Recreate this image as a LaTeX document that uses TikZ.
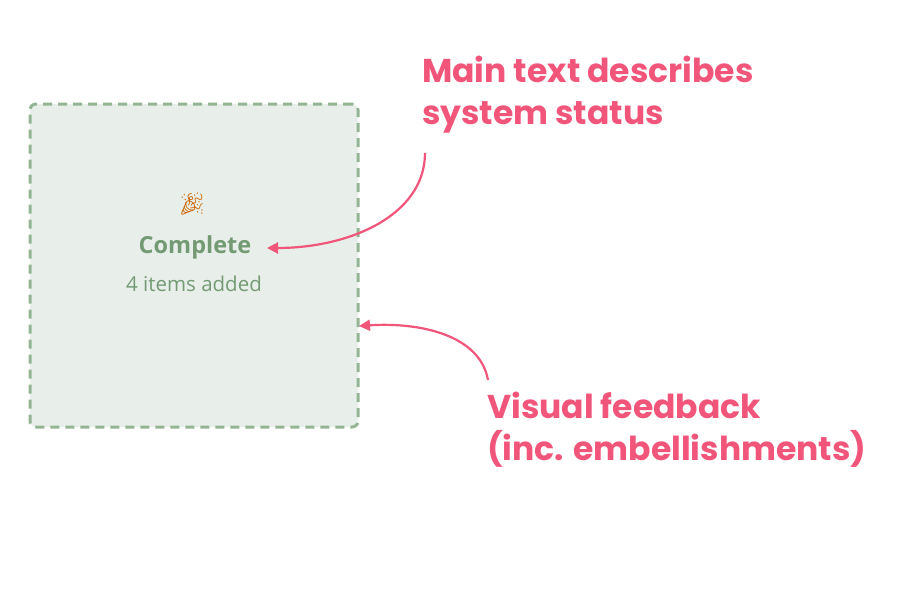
\documentclass[tikz,border=0pt]{standalone}
\usepackage{fontspec}
\setmainfont{Poppins}
\newfontfamily\gfont{Open Sans}
\newfontfamily\emo{Noto Emoji}
\usetikzlibrary{arrows.meta}
\definecolor{pinkc}{HTML}{F2557A}
\definecolor{greenc}{HTML}{739A73}
\definecolor{boxfill}{HTML}{E8EFEA}
\definecolor{boxline}{HTML}{94B594}
\tikzset{lbl/.style={text=pinkc,font=\fontsize{33}{42}\selectfont\bfseries,align=left,anchor=north west,inner sep=0},
 conn/.style={draw=pinkc,line width=2.2pt,-{Triangle[length=11pt,width=11pt]}}}
\begin{document}
\begin{tikzpicture}[x=1pt,y=-1pt]
\useasboundingbox (0,0) rectangle (900,589);
\fill[white] (0,0) rectangle (900,589);
\node[draw=boxline,fill=boxfill,line width=3pt,dash pattern=on 9pt off 6pt,rounded corners=6pt,minimum width=328pt,minimum height=323pt,inner sep=0] (box) at (194,265.5) {};
\node[font=\emo\fontsize{22}{22}\selectfont,text=orange!80!black] (emo) at (192,204) {🎉};
\node[font=\gfont\fontsize{23.5}{26}\selectfont\bfseries,text=greenc] (comp) at (195,247) {Complete};
\node[font=\gfont\fontsize{20.5}{24}\selectfont,text=greenc] (items) at (194,284) {4 items added};
\node[lbl] (l1) at (422,56) {Main text describes\\system status};
\node[lbl] (l2) at (487,392) {Visual feedback\\(inc. embellishments)};
\coordinate (s1) at (425,153);
\coordinate (e1) at (267,248);
\coordinate (s2) at (488,380);
\coordinate (e2) at (359,326);
\draw[conn] (s1) .. controls (425,215) and (350,248) .. (e1);
\draw[conn] (s2) .. controls (480,335) and (420,322) .. (e2);
\end{tikzpicture}
\end{document}
